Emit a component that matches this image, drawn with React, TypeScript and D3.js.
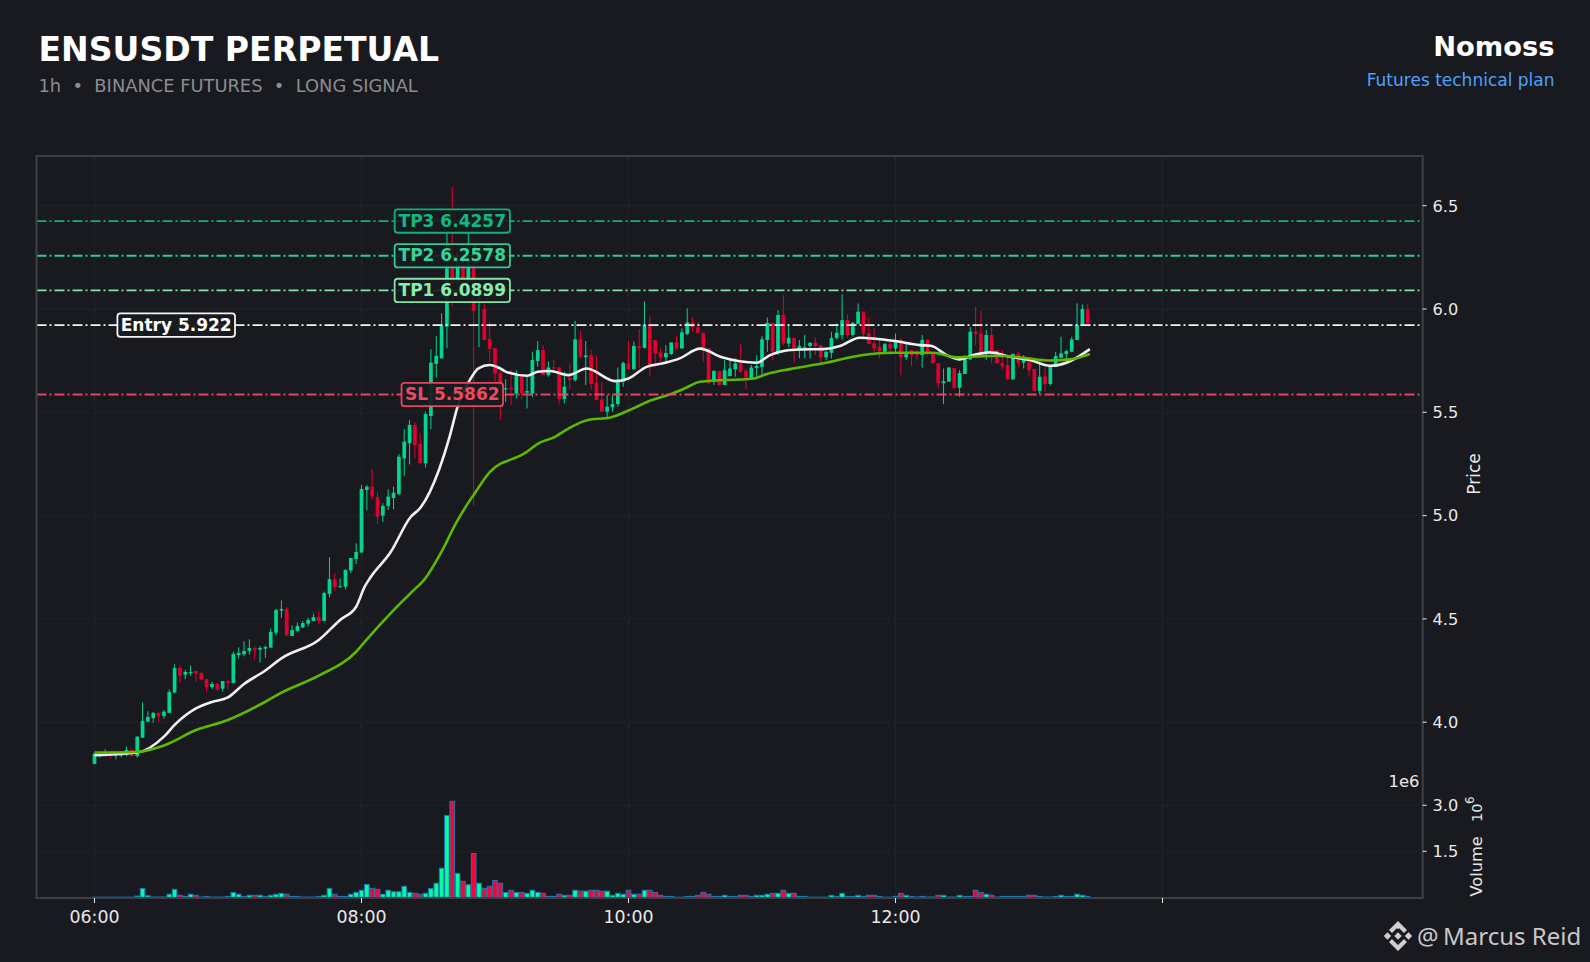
import React from "react";
import * as d3 from "d3";

const opens = [3.798,3.835,3.840,3.848,3.838,3.838,3.841,3.866,3.836,3.925,
4.003,4.020,4.045,4.030,4.045,4.143,4.262,4.230,4.240,4.248,
4.238,4.208,4.170,4.185,4.162,4.199,4.190,4.325,4.329,4.345,
4.359,4.351,4.356,4.361,4.433,4.540,4.548,4.417,4.442,4.459,
4.477,4.490,4.509,4.490,4.621,4.692,4.655,4.655,4.734,4.790,
4.821,5.124,5.140,5.089,5.000,5.047,5.085,5.105,5.277,5.350,
5.439,5.347,5.253,5.482,5.734,5.761,5.915,6.300,6.130,6.240,
6.140,6.250,6.050,6.000,5.855,5.811,5.689,5.610,5.618,5.591,
5.675,5.595,5.591,5.748,5.801,5.680,5.717,5.717,5.564,5.667,
5.656,5.853,5.767,5.775,5.643,5.562,5.503,5.524,5.540,5.648,
5.737,5.709,5.821,5.812,5.922,5.850,5.790,5.766,5.782,5.838,
5.809,5.879,5.935,5.911,5.885,5.809,5.648,5.700,5.632,5.675,
5.708,5.737,5.701,5.661,5.714,5.720,5.850,5.933,5.793,5.971,
5.833,5.861,5.806,5.810,5.821,5.837,5.825,5.766,5.788,5.859,
5.874,5.946,5.874,5.927,5.987,5.882,5.833,5.817,5.793,5.830,
5.809,5.850,5.766,5.801,5.793,5.777,5.850,5.785,5.737,5.641,
5.648,5.714,5.619,5.685,5.756,5.890,5.882,5.793,5.874,5.801,
5.737,5.729,5.659,5.785,5.740,5.745,5.709,5.603,5.675,5.637,
5.720,5.764,5.782,5.793,5.850,5.922,6.000];
const highs = [3.849,3.850,3.869,3.852,3.850,3.855,3.882,3.866,3.932,4.096,
4.053,4.050,4.047,4.059,4.159,4.280,4.275,4.253,4.275,4.250,
4.245,4.208,4.196,4.188,4.199,4.204,4.341,4.362,4.392,4.401,
4.366,4.369,4.372,4.454,4.548,4.590,4.559,4.469,4.483,4.490,
4.506,4.525,4.537,4.632,4.798,4.721,4.696,4.740,4.795,4.866,
5.148,5.148,5.226,5.113,5.060,5.127,5.140,5.298,5.418,5.463,
5.452,5.398,5.503,5.805,5.870,5.979,6.366,6.592,6.300,6.290,
6.366,6.270,6.150,6.035,5.939,5.811,5.700,5.660,5.704,5.704,
5.680,5.680,5.793,5.845,5.825,5.745,5.753,5.717,5.696,5.737,
5.943,5.895,5.845,5.804,5.777,5.648,5.583,5.583,5.717,5.745,
5.846,5.842,5.903,6.038,5.967,5.850,5.809,5.825,5.838,5.869,
5.906,6.003,5.959,5.938,5.885,5.809,5.704,5.700,5.753,5.758,
5.761,5.830,5.712,5.729,5.777,5.869,5.959,5.933,5.995,6.067,
5.917,5.861,5.850,5.874,5.837,5.862,5.825,5.798,5.890,5.930,
6.071,5.975,5.938,6.027,5.987,5.959,5.906,5.850,5.836,5.850,
5.882,5.858,5.836,5.801,5.803,5.874,5.853,5.792,5.737,5.712,
5.717,5.714,5.704,5.776,5.914,6.011,5.992,5.898,5.911,5.801,
5.801,5.769,5.785,5.792,5.777,5.769,5.709,5.745,5.717,5.729,
5.793,5.866,5.803,5.866,6.027,6.022,6.027];
const lows = [3.798,3.830,3.835,3.824,3.820,3.830,3.835,3.833,3.828,3.925,
4.000,3.998,4.003,4.017,4.045,4.140,4.191,4.208,4.225,4.196,
4.204,4.143,4.161,4.154,4.148,4.159,4.188,4.308,4.319,4.327,
4.304,4.288,4.312,4.361,4.421,4.506,4.419,4.417,4.438,4.456,
4.463,4.488,4.474,4.490,4.604,4.635,4.651,4.642,4.721,4.766,
4.821,5.027,5.079,4.960,4.970,5.027,5.030,5.100,5.193,5.248,
5.277,5.253,5.232,5.418,5.669,5.761,5.810,6.012,6.100,6.100,
6.100,5.047,5.815,5.850,5.745,5.648,5.463,5.550,5.535,5.567,
5.562,5.519,5.575,5.721,5.680,5.672,5.704,5.538,5.543,5.611,
5.648,5.761,5.632,5.611,5.559,5.503,5.475,5.503,5.527,5.624,
5.709,5.708,5.712,5.809,5.677,5.717,5.745,5.745,5.777,5.801,
5.809,5.874,5.890,5.882,5.745,5.640,5.632,5.627,5.632,5.675,
5.672,5.688,5.611,5.661,5.672,5.672,5.793,5.753,5.777,5.825,
5.817,5.740,5.761,5.761,5.761,5.777,5.740,5.753,5.761,5.853,
5.853,5.862,5.866,5.927,5.862,5.830,5.793,5.761,5.788,5.788,
5.793,5.680,5.753,5.724,5.753,5.717,5.777,5.737,5.616,5.540,
5.648,5.612,5.575,5.685,5.752,5.825,5.785,5.753,5.737,5.737,
5.708,5.659,5.659,5.717,5.712,5.672,5.600,5.587,5.600,5.630,
5.718,5.762,5.753,5.790,5.850,5.922,5.920];
const closes = [3.849,3.845,3.848,3.838,3.846,3.850,3.866,3.836,3.930,4.006,
4.025,4.045,4.032,4.051,4.146,4.262,4.225,4.243,4.243,4.235,
4.206,4.170,4.185,4.158,4.199,4.190,4.330,4.335,4.345,4.359,
4.351,4.359,4.364,4.437,4.543,4.548,4.419,4.446,4.466,4.480,
4.495,4.509,4.490,4.625,4.692,4.655,4.658,4.737,4.795,4.824,
5.129,5.140,5.092,4.995,5.047,5.092,5.111,5.285,5.358,5.439,
5.342,5.253,5.492,5.740,5.773,5.918,6.197,6.120,6.220,6.140,
6.220,5.992,6.100,5.850,5.807,5.687,5.610,5.616,5.612,5.675,
5.591,5.603,5.753,5.801,5.680,5.717,5.712,5.564,5.624,5.656,
5.853,5.769,5.775,5.637,5.559,5.503,5.527,5.540,5.653,5.738,
5.709,5.821,5.811,5.922,5.729,5.785,5.766,5.787,5.838,5.809,
5.887,5.935,5.911,5.885,5.809,5.640,5.700,5.632,5.704,5.712,
5.737,5.696,5.669,5.717,5.724,5.853,5.933,5.793,5.971,5.833,
5.861,5.809,5.821,5.815,5.837,5.821,5.766,5.793,5.859,5.885,
5.946,5.874,5.933,5.987,5.879,5.830,5.809,5.795,5.830,5.809,
5.850,5.766,5.782,5.777,5.777,5.850,5.785,5.737,5.640,5.651,
5.717,5.619,5.690,5.764,5.890,5.879,5.788,5.874,5.793,5.737,
5.724,5.659,5.782,5.740,5.766,5.704,5.603,5.672,5.637,5.720,
5.772,5.785,5.796,5.853,5.922,6.000,5.930];
const volumes = [0.005,0.005,0.005,0.005,0.005,0.005,0.005,0.005,0.04,0.29,
0.05,0.01,0.01,0.01,0.10,0.26,0.065,0.03,0.10,0.065,
0.01,0.03,0.008,0.008,0.008,0.03,0.16,0.10,0.03,0.065,
0.065,0.065,0.03,0.065,0.10,0.13,0.10,0.03,0.03,0.008,
0.008,0.008,0.03,0.065,0.29,0.10,0.03,0.03,0.10,0.16,
0.23,0.42,0.29,0.26,0.10,0.23,0.18,0.18,0.36,0.16,
0.13,0.10,0.13,0.29,0.46,0.95,2.67,3.13,0.78,0.52,
0.41,1.43,0.46,0.29,0.36,0.55,0.46,0.16,0.23,0.16,
0.16,0.13,0.23,0.16,0.13,0.03,0.03,0.10,0.065,0.065,
0.23,0.20,0.20,0.23,0.23,0.20,0.20,0.065,0.13,0.10,
0.23,0.10,0.10,0.23,0.23,0.16,0.065,0.03,0.03,0.005,
0.005,0.03,0.03,0.065,0.16,0.10,0.03,0.03,0.065,0.03,
0.03,0.065,0.065,0.03,0.065,0.065,0.10,0.13,0.13,0.23,
0.13,0.13,0.03,0.03,0.005,0.005,0.005,0.005,0.065,0.03,
0.13,0.03,0.03,0.065,0.03,0.065,0.065,0.03,0.005,0.005,
0.03,0.13,0.065,0.03,0.01,0.03,0.01,0.01,0.065,0.065,
0.01,0.01,0.065,0.03,0.03,0.23,0.16,0.10,0.065,0.01,
0.03,0.03,0.03,0.03,0.03,0.065,0.065,0.03,0.01,0.01,
0.03,0.065,0.03,0.03,0.10,0.065,0.03];

const fastIdx = [0,8,13,15,19,22,25,28,32,35,42,46,49,50.6,51.6,55.4,59.2,61.1,64.5,66.5,68,70.3,71.9,74,76,77,81,83,85.3,88.7,92.2,97.5,100,103.4,106.5,109.6,113.4,117.5,124,126.5,129.3,132,136.5,139.6,143.3,149.6,154.6,156.6,159.6,162,164.6,167.7,171.4,175.2,178.9,182,186.4];
const fastVal = [3.840,3.853,3.930,3.987,4.067,4.098,4.120,4.185,4.250,4.309,4.398,4.495,4.559,4.656,4.698,4.821,4.993,5.040,5.221,5.382,5.527,5.657,5.713,5.729,5.712,5.697,5.677,5.696,5.700,5.680,5.712,5.651,5.664,5.720,5.737,5.761,5.808,5.766,5.740,5.777,5.798,5.804,5.806,5.821,5.861,5.846,5.825,5.822,5.777,5.756,5.777,5.790,5.769,5.753,5.725,5.740,5.806];
const slowIdx = [0,8,13,19,25,32,35,42,49,51,55.4,59.2,62,64.9,67.8,70.2,71,74.1,80.6,83.4,85.8,88.6,92.2,96.6,100.9,104,107.9,110.9,113.4,123.4,125.9,130.2,136.5,143.9,149.6,157,161.5,169,174,178.9,182.7,186.4];
const slowVal = [3.853,3.856,3.887,3.962,4.011,4.099,4.143,4.225,4.341,4.401,4.526,4.625,4.698,4.821,4.968,5.070,5.100,5.213,5.302,5.353,5.376,5.419,5.462,5.475,5.519,5.556,5.588,5.620,5.648,5.664,5.685,5.709,5.737,5.777,5.788,5.788,5.766,5.774,5.764,5.751,5.756,5.782];

const priceTicks = [4.0,4.5,5.0,5.5,6.0,6.5];
const volumeTicks = [1.5,3.0];
const xTicks = [0,50,100,150,200];
const xTickLabels = ["06:00","08:00","10:00","12:00",""];
const levelNames = ["TP3 6.4257","TP2 6.2578","TP1 6.0899","Entry 5.922","SL 5.5862"];
const levelValues = [6.4257,6.2578,6.0899,5.922,5.5862];
const levelColors = ["#10b981","#34d399","#86efac","#ffffff","#f04860"];
const levelAnchors = [67,67,67,15.3,67];

const BG = "#181a20";
const FONT = "'DejaVu Sans', sans-serif";
const UP = "#00d68f", DOWN = "#e0002d";
const VUP = "#00ff9d", VDOWN = "#ff0033", VEDGE = "#1f77b4";
const LEFT = 36.5, RIGHT = 1422.7, TOP = 156, BOTTOM = 898;
const TICK = "#e8e8e8";

export default function App() {
  const x = d3.scaleLinear().domain([0, 200]).range([94.5, 1162.5]);
  const y = d3.scaleLinear().domain([4, 6.5]).range([722.2, 205.7]);
  const vy = d3.scaleLinear().domain([0, 3]).range([897.3, 805.3]);
  const lineFast = d3.line<number>().x((_, i) => x(fastIdx[i])).y(d => y(d)).curve(d3.curveMonotoneX);
  const lineSlow = d3.line<number>().x((_, i) => x(slowIdx[i])).y(d => y(d)).curve(d3.curveMonotoneX);
  const bw = 3.7, vw = 4.6;
  React.useEffect(() => {
    document.body.style.margin = "0";
    document.body.style.background = BG;
  }, []);
  return (
    <svg width={1590} height={962} viewBox="0 0 1590 962" style={{ display: "block", background: BG, fontFamily: FONT }}>
      <text x={38.5} y={61} fontSize={33.1} fontWeight="bold" fill="#fff">ENSUSDT PERPETUAL</text>
      <text x={38.5} y={92.3} fontSize={17.85} fill="#8b8d91" xmlSpace="preserve">1h  •  BINANCE FUTURES  •  LONG SIGNAL</text>
      <text x={1554.5} y={56} fontSize={27.3} fontWeight="bold" fill="#fff" textAnchor="end">Nomoss</text>
      <text x={1554.5} y={86} fontSize={17} fill="#4aa3ff" textAnchor="end">Futures technical plan</text>

      {priceTicks.map(t => <line key={t} x1={LEFT} x2={RIGHT} y1={y(t)} y2={y(t)} stroke="#24272c" strokeWidth={1} strokeDasharray="5 3" />)}
      {volumeTicks.map(t => <line key={t} x1={LEFT} x2={RIGHT} y1={vy(t)} y2={vy(t)} stroke="#24272c" strokeWidth={1} strokeDasharray="5 3" />)}
      {xTicks.map(t => <line key={t} x1={x(t)} x2={x(t)} y1={TOP} y2={BOTTOM} stroke="#24272c" strokeWidth={1} strokeDasharray="5 3" />)}

      {volumes.map((v, i) => (
        <rect key={i} x={x(i) - vw / 2} y={vy(v)} width={vw} height={Math.max(0, vy(0) - vy(v))}
          fill={closes[i] >= opens[i] ? VUP : VDOWN} stroke={VEDGE} strokeWidth={1} />
      ))}

      {opens.map((o, i) => {
        const c = closes[i], col = c >= o ? UP : DOWN;
        const top = y(Math.max(o, c)), bot = y(Math.min(o, c));
        return (
          <g key={i}>
            <line x1={x(i)} x2={x(i)} y1={y(highs[i])} y2={y(lows[i])} stroke={col} strokeWidth={1} />
            <rect x={x(i) - bw / 2} y={top} width={bw} height={Math.max(1, bot - top)} fill={col} />
          </g>
        );
      })}

      <path d={lineFast(fastVal) ?? ""} fill="none" stroke="#f0f0f0" strokeWidth={2.6} />
      <path d={lineSlow(slowVal) ?? ""} fill="none" stroke="#5cb800" strokeWidth={2.6} />

      {levelValues.map((v, i) => (
        <line key={i} x1={LEFT} x2={RIGHT} y1={y(v)} y2={y(v)} stroke={levelColors[i]} strokeWidth={1.8} strokeOpacity={0.95} strokeDasharray="10 3 2 3" />
      ))}
      {levelValues.map((v, i) => {
        const w = i === 3 ? 117.6 : i === 4 ? 101.5 : 115.3;
        return (
          <g key={i}>
            <rect x={x(levelAnchors[i]) - w / 2} y={y(v) - 11.7} width={w} height={23.4} rx={3} fill={BG} fillOpacity={0.92} stroke={levelColors[i]} strokeOpacity={0.95} strokeWidth={1.8} />
            <text x={x(levelAnchors[i])} y={y(v) + 5.6} fontSize={17} fontWeight="bold" fill={levelColors[i]} textAnchor="middle">{levelNames[i]}</text>
          </g>
        );
      })}

      <rect x={LEFT} y={TOP} width={RIGHT - LEFT} height={BOTTOM - TOP} fill="none" stroke="#3c4046" strokeWidth={2} />

      {priceTicks.map(t => (
        <g key={t}>
          <line x1={RIGHT} x2={RIGHT + 4} y1={y(t)} y2={y(t)} stroke={TICK} strokeWidth={1} />
          <text x={1432.5} y={y(t) + 5.8} fontSize={16.2} fill={TICK}>{t.toFixed(1)}</text>
        </g>
      ))}
      {volumeTicks.map(t => (
        <g key={t}>
          <line x1={RIGHT} x2={RIGHT + 4} y1={vy(t)} y2={vy(t)} stroke={TICK} strokeWidth={1} />
          <text x={1432.5} y={vy(t) + 5.8} fontSize={16.2} fill={TICK}>{t.toFixed(1)}</text>
        </g>
      ))}
      {xTicks.map((t, i) => (
        <g key={t}>
          <line x1={x(t)} x2={x(t)} y1={BOTTOM} y2={BOTTOM + 5} stroke={TICK} strokeWidth={1} />
          <text x={x(t)} y={923} fontSize={17.4} fill={TICK} textAnchor="middle">{xTickLabels[i]}</text>
        </g>
      ))}
      <text x={1419.5} y={787} fontSize={16.4} fill={TICK} textAnchor="end">1e6</text>
      <text transform="translate(1480,474) rotate(-90)" fontSize={17} fill={TICK} textAnchor="middle">Price</text>
      <text transform="translate(1481.5,896.5) rotate(-90)" fontSize={16.2} fill={TICK}>Volume</text>
      <text transform="translate(1481.5,822) rotate(-90)" fontSize={14.5} fill={TICK}>10</text>
      <text transform="translate(1474,804) rotate(-90)" fontSize={12} fill={TICK}>6</text>

      <g transform="translate(1398,936)" fill="#cfcfcf">
        {[[0,-10.5],[-10.5,0],[10.5,0],[0,0]].map(([dx,dy],i)=>(
          <rect key={i} x={dx-2.6} y={dy-2.6} width={5.2} height={5.2} transform={`rotate(45 ${dx} ${dy})`} />
        ))}
        <path d="M-9,-5 L0,-14 L9,-5 L6,-2 L0,-8 L-6,-2 Z" transform="translate(0,-1)" />
        <path d="M-9,5 L0,14 L9,5 L6,2 L0,8 L-6,2 Z" transform="translate(0,1)" />
      </g>
      <text x={1417} y={945} fontFamily="'Noto Sans', sans-serif" fontSize={24} fill="#c8c8c8">@</text>
      <text x={1443} y={945} fontFamily="'Noto Sans', sans-serif" fontSize={24} fill="#c8c8c8">Marcus Reid</text>
    </svg>
  );
}
